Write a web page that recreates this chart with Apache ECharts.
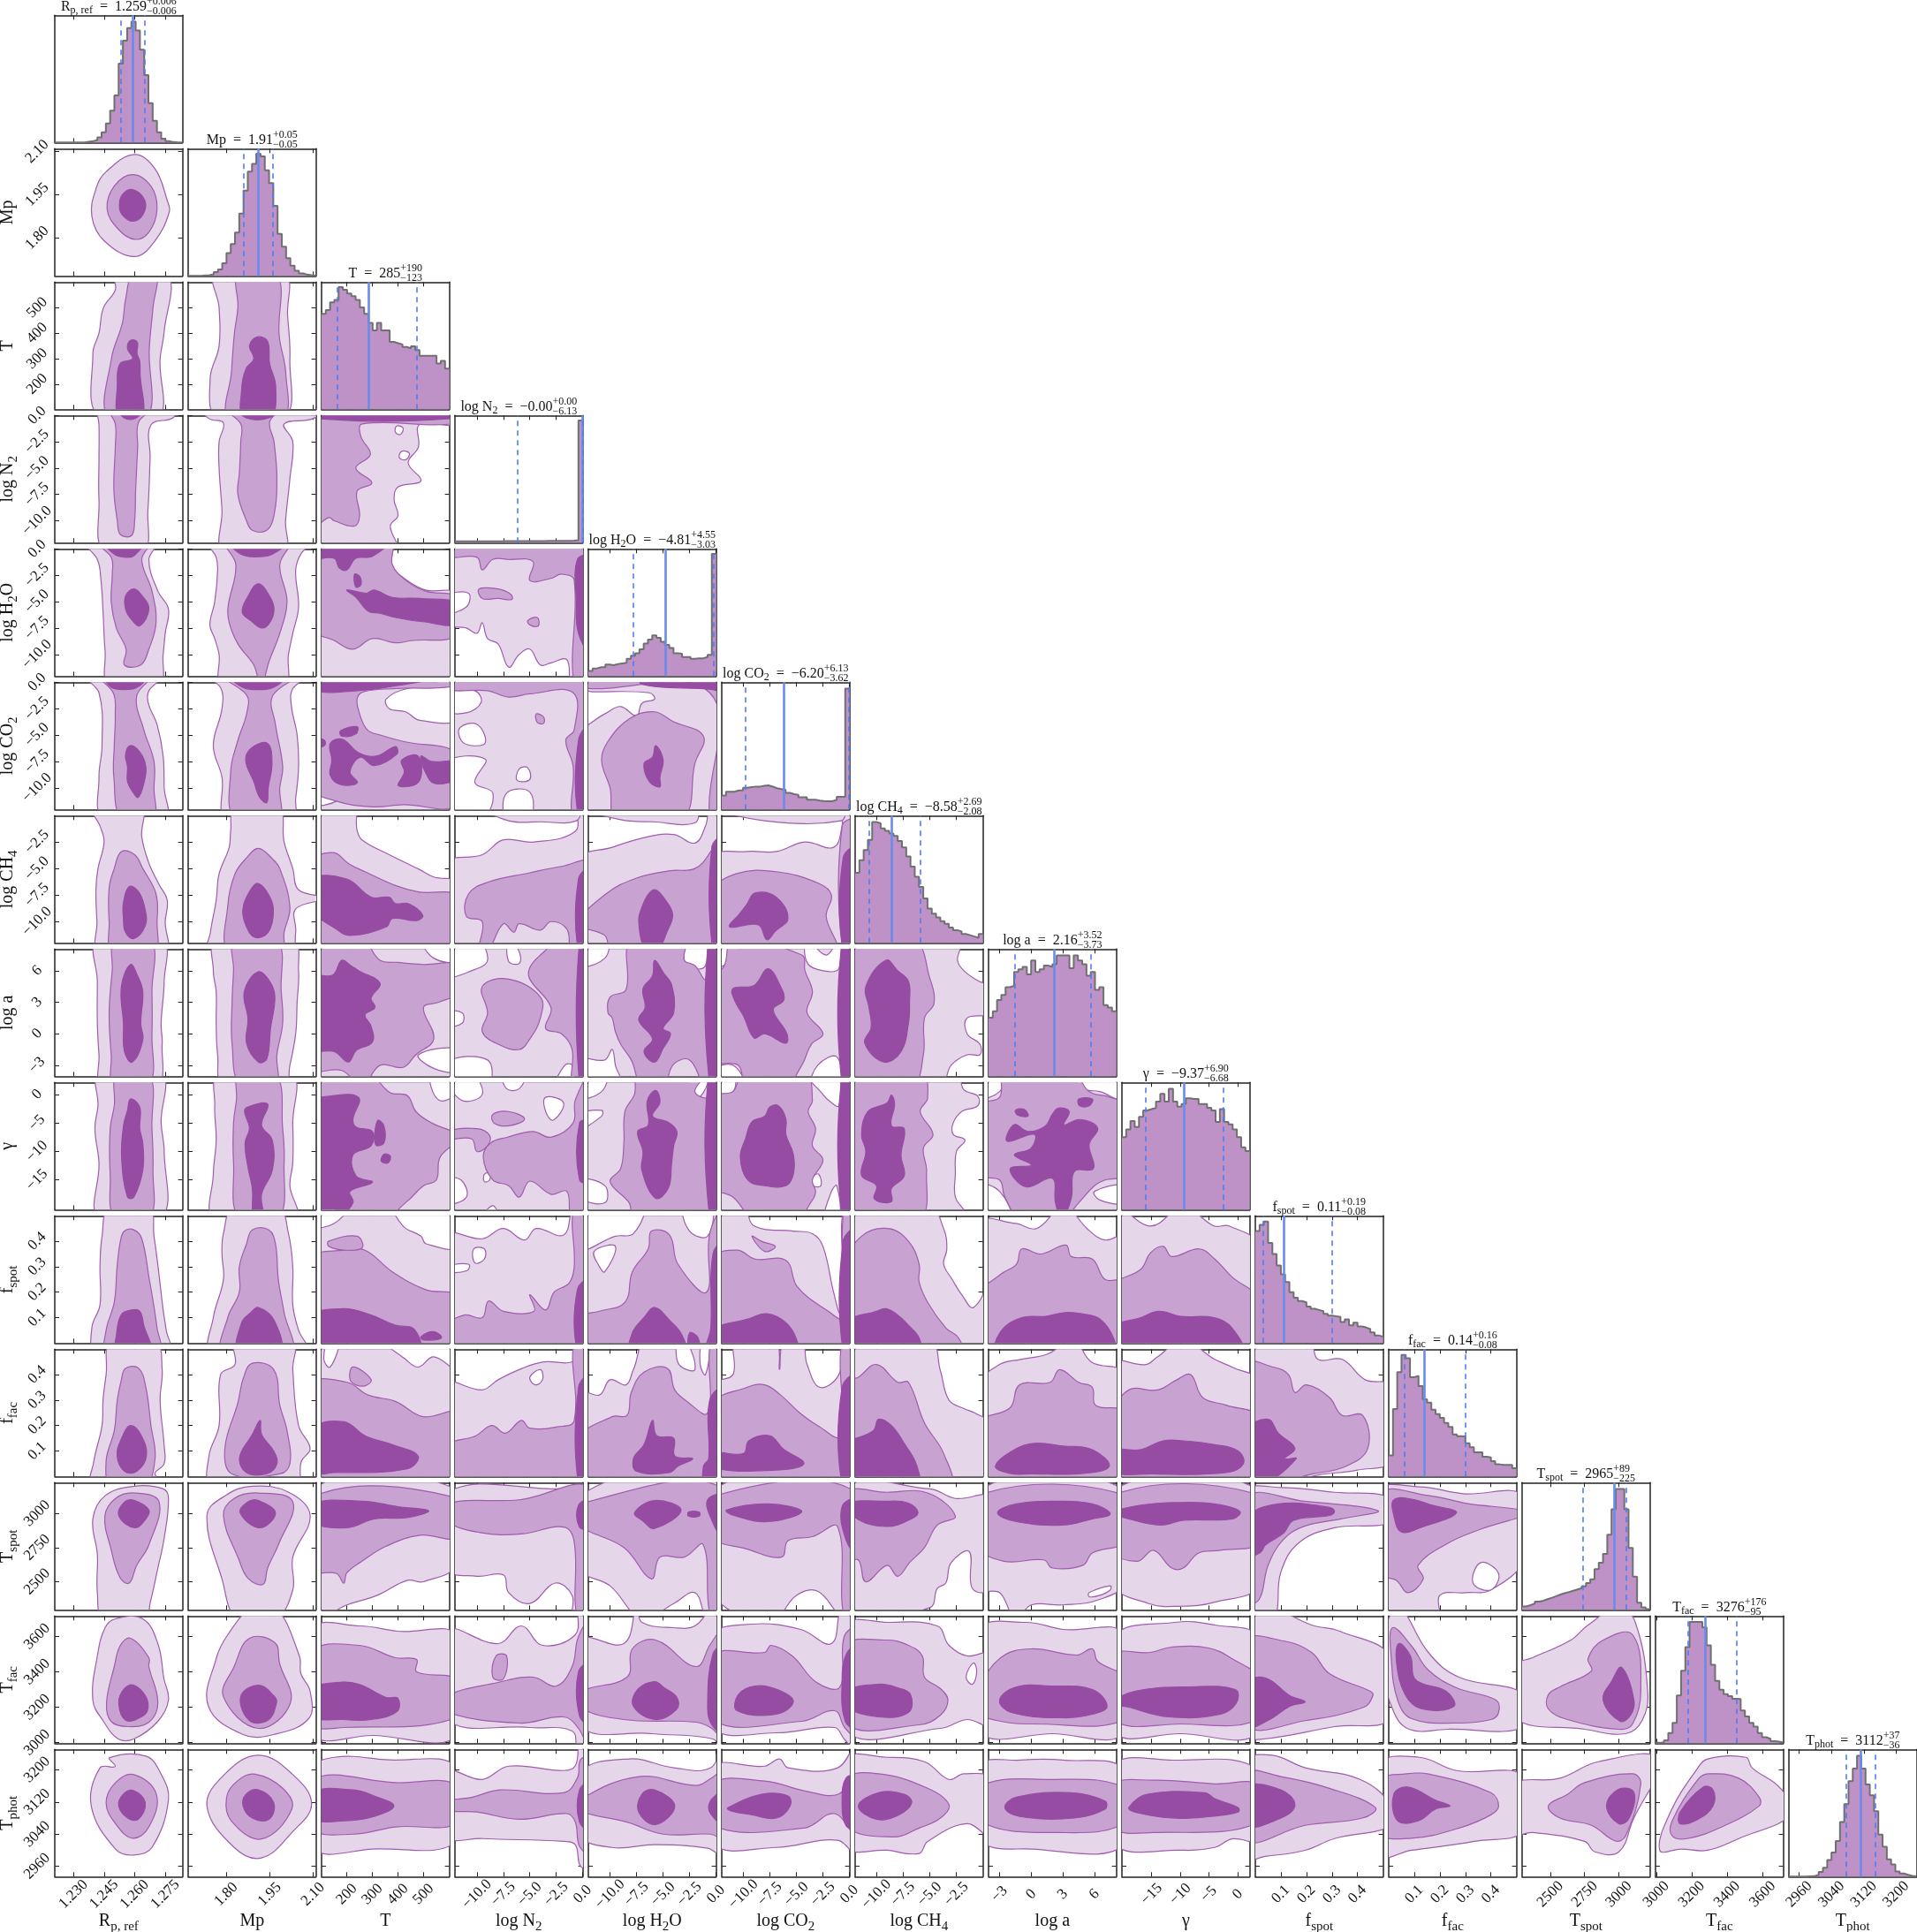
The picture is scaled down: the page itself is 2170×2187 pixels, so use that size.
<!DOCTYPE html>
<html>
<head>
<meta charset="utf-8">
<title>Corner plot</title>
<script src="https://cdn.jsdelivr.net/npm/echarts@6/dist/echarts.min.js"></script>
<style>
  html, body { margin: 0; padding: 0; background: #fff; }
  #chart { width: 2170px; height: 2187px; }
</style>
</head>
<body>
<div id="chart"></div>
<script>
// labels: pieces alternate between normal text and subscript
const paramNames = [['R','p, ref'],['Mp'],['T'],['log N','2'],['log H','2','O'],['log CO','2'],['log CH','4'],['log a'],['γ'],['f','spot'],['f','fac'],['T','spot'],['T','fac'],['T','phot']];
const titleValues = ['1.259','1.91','285','−0.00','−4.81','−6.20','−8.58','2.16','−9.37','0.11','0.14','2965','3276','3112'];
const titlePlus = ['+0.006','+0.05','+190','+0.00','+4.55','+6.13','+2.69','+3.52','+6.90','+0.19','+0.16','+89','+176','+37'];
const titleMinus = ['−0.006','−0.05','−123','−6.13','−3.03','−3.62','−2.08','−3.73','−6.68','−0.08','−0.08','−225','−95','−36'];

const axisMin = [1.2208,1.668,101,-12.08,-12.05,-12.05,-12,-4.05,-20.2,0,0,2294,2996,2934.5];
const axisMax = [1.2835,2.11,601,0,0,0,-0.02,8.07,2.1,0.5,0.5,3226,3716,3250.6];
const tickValues = [
  [1.23,1.245,1.26,1.275],[1.8,1.95,2.1],[200,300,400,500],[-10,-7.5,-5,-2.5,0],[-10,-7.5,-5,-2.5,0],[-10,-7.5,-5,-2.5,0],[-10,-7.5,-5,-2.5],
  [-3,0,3,6],[-15,-10,-5,0],[0.1,0.2,0.3,0.4],[0.1,0.2,0.3,0.4],[2500,2750,3000],[3000,3200,3400,3600],[2960,3040,3120,3200]
];
const tickDecimals = [3,2,0,1,1,1,1,0,0,1,1,0,0,0];

const lowerValues = [1.253,1.86,162,-6.13,-7.84,-9.82,-10.66,-1.57,-16.05,0.03,0.06,2740,3181,3076];
const medianValues = [1.259,1.91,285,-0.01,-4.81,-6.2,-8.58,2.16,-9.37,0.11,0.14,2965,3276,3112];
const upperValues = [1.265,1.96,475,-0.01,-0.26,-0.07,-5.89,5.68,-2.47,0.3,0.3,3054,3452,3149];

// histogram heights, 30 bins each
const histRp = [0,0,0,0,0,0,0,0.5,1,2,4,8,15,25,37,62,80,90,95,88,73,53,31,17,8,3,1,0.3,0.1,0];
const histMp = [0,0,0,0.3,0.6,1.2,3,5,10,18,25,34,49,67,82,88,96,94,83,73,55,33,23,14,8,4,2,1,0.5,0.2];
const histT = [75,78,84,86,96,94,91,89,86,80,75,68,62,68,62,62,53,52,51,49,48,49.5,46.5,42,42,42,42,36,38,32];
const histN2 = [1,1,1,1,1,1,1,1,1,1,1,1.2,1.2,1.2,1.2,1.2,1.2,1.2,1.3,1.3,1.3,1.4,1.4,1.4,1.4,1.5,1.5,1.6,2,96];
const histH2O = [4,6,7,7,9,8.5,9.5,10,10.5,13.5,16,18,21,25.5,28.6,32,30,27,24.5,22,18,17.6,15,15,13.6,14,14,15,16.7,96];
const histCO2 = [11,14,14,15,15,17,17.5,18,18,18.6,19,17.9,16.7,16,15.5,13,12,11.5,9.5,9.5,7.6,7.6,7,6.7,6.5,6.5,7.6,10,10,95];
const histCH4 = [55,65,73,81,95,94,90,88,86,84,80,75,68,60,52,44,35,27,23,20,17,15,12,10,9,7,6,5,4,7];
const histA = [46,51,60,64,70,71,82,84,86,80,91,82,84,87,86,88,95,95,95,85,95,91,88,79,82,68,70,56,54,51];
const histGamma = [57,63,69.6,65,73,78,79,80,85,91,85,95,85,81,83,87.5,87,87,83,83,80,78,69,79,69,67,63,57,49,46];
const histFspot = [88,93,95.6,78.6,70,61,54,48,40,35.6,33,32,28.6,27,26,25,23,21.6,21,20.5,16.5,18.6,14,16,13,12.3,11,8.4,6,5];
const histFfac = [16.5,53,82,95.6,93,78,79,71,60.7,58,52.5,49,46,42,39,33,31.6,31.5,26,23,19,19,15.5,15,12,9.5,9,9,9,6.5];
const histTspot = [2.6,3.7,5,6.5,7.2,8.4,9.5,10.7,12,13,14,15,16,17,18.5,21,24,32,37,44,59,79,95,95,79,48.6,26,5.6,2,0.5];
const histTfac = [0.3,0.7,2.3,8,16,37.5,57,75.6,95.3,95.3,95.3,91,77,61.6,49,42,38.6,37,35,34.7,25.8,21,16,13,8,4.7,3.5,1.6,1.2,0.5];
const histTphot = [0,0,0,0.1,0.2,0.3,1.4,3.7,7,13,19,28,43,57,75,85,95,85,72.5,64,51.5,33,23.5,13.5,9.5,4,2.5,1.4,0.6,0.2];
const histograms = [histRp,histMp,histT,histN2,histH2O,histCO2,histCH4,histA,histGamma,histFspot,histFfac,histTspot,histTfac,histTphot];

// contour outlines in data units: [level, x,y, x,y, ...]
// level 0 light, 1 medium, 2 dark, 3 white hole
const row1 = [
  [[0,1.26,2.09,1.27,2.04,1.276,1.93,1.277,1.89,1.27,1.79,1.26,1.735,1.245,1.79,1.239,1.875,1.241,1.97,1.246,2.03],[1,1.259,2.02,1.268,1.98,1.271,1.9,1.267,1.82,1.26,1.795,1.252,1.83,1.2465,1.9,1.25,1.98],[2,1.259,1.968,1.265,1.93,1.264,1.88,1.259,1.858,1.254,1.88,1.2525,1.91,1.254,1.95]]
];
const row2 = [
  [[0,1.2506,610,1.2759,610,1.2744,400,1.2725,300,1.2715,90,1.2425,90,1.2395,320,1.2425,400,1.2447,500,1.2505,570],[1,1.2595,610,1.2703,610,1.269,500,1.2672,340,1.2662,90,1.2468,90,1.2486,300,1.254,440,1.2555,530],[2,1.2525,90,1.2635,90,1.2627,240,1.2625,290,1.2612,320,1.2613,365,1.258,372,1.2565,340,1.259,300,1.2528,280,1.2515,200]],
  [[0,1.762,610,2,610,2.012,470,2.02,300,2,90,1.77,90,1.744,220,1.775,350,1.775,500],[1,1.843,610,1.974,610,1.983,390,2.006,240,1.995,90,1.81,90,1.818,250,1.828,400,1.84,500],[2,1.86,90,1.953,90,1.971,190,1.95,280,1.942,370,1.905,385,1.88,350,1.895,300,1.868,260,1.853,180]]
];
const row3 = [
  [[0,1.241,0.1,1.2795,0.1,1.279,-0.2,1.268,-0.9,1.2676,-4,1.2665,-9,1.2644,-12.2,1.2447,-12.2,1.2425,-8,1.2425,-4,1.2425,-0.9,1.242,-0.2],[1,1.247,0.1,1.27,0.1,1.262,-0.6,1.2615,-3,1.2605,-7,1.26,-10,1.2585,-11.4,1.253,-11.3,1.2515,-10,1.2498,-7,1.2505,-3,1.2505,-0.8],[2,1.2515,0.1,1.2645,0.1,1.261,-0.2,1.255,-0.25]],
  [[0,1.71,0.1,2.11,0.1,2.1,-0.3,2,-0.8,2.03,-2.5,2.02,-6,2.005,-10,2,-12.2,1.79,-12.2,1.785,-9,1.775,-5,1.775,-2.5,1.79,-0.7,1.74,-0.3],[1,1.79,0.1,1.99,0.1,1.95,-0.6,1.965,-2.5,1.975,-6,1.965,-9.5,1.94,-10.9,1.89,-10.9,1.87,-10,1.84,-7.5,1.845,-5.5,1.85,-2.5,1.85,-0.8],[2,1.84,0.1,1.98,0.1,1.95,-0.2,1.87,-0.25]],
  [[0,101,0.1,601,0.1,601,-0.85,485,-0.85,480,-3,440,-4.5,490,-6.2,400,-6.8,385,-8,400,-9.5,370,-10.5,395,-12.2,101,-12.2],[3,395,-1,420,-1.2,410,-1.8,390,-1.6],[3,415,-3.4,445,-3.6,430,-4.2,405,-4],[1,101,0.1,601,0.1,601,-0.7,260,-0.8,255,-2,292,-3.7,235,-5,298,-6.4,240,-7.2,250,-9.5,230,-10.5,150,-10,130,-9.7,101,-10.5],[2,101,0.1,601,0.1,601,-0.25,101,-0.25]]
];
const row4 = [
  [[0,1.235,0.1,1.2715,0.1,1.267,-1,1.2714,-4,1.2766,-5.7,1.275,-8,1.274,-10,1.272,-12.2,1.2475,-12.2,1.2455,-9.7,1.2445,-6,1.2435,-3,1.2417,-1],[1,1.2405,0.1,1.268,0.1,1.2635,-1,1.2685,-4,1.2705,-7,1.267,-9.5,1.263,-11,1.255,-11,1.2558,-9.5,1.251,-7.5,1.2485,-5,1.249,-2.5,1.2485,-0.8],[2,1.245,0.1,1.265,0.1,1.26,-0.6,1.2565,-0.8,1.25,-0.5],[2,1.2595,-3.8,1.2635,-4.4,1.267,-5.7,1.2625,-7.3,1.2585,-6.7,1.2557,-5.8,1.2555,-4.5]],
  [[0,1.735,0.1,2.105,0.1,2.06,-0.4,2.04,-2,2.05,-5.5,2.03,-8,2.015,-10,2,-12.2,1.785,-12.2,1.775,-10,1.76,-8.5,1.743,-7.2,1.76,-5,1.77,-2,1.765,-0.8],[1,1.795,0.1,2.02,0.1,1.985,-1.5,2.01,-5,1.985,-8,1.95,-10.5,1.92,-12,1.895,-11,1.84,-9,1.81,-7,1.806,-5.5,1.833,-1.5],[2,1.81,0.1,2.015,0.1,1.96,-0.5,1.91,-0.75,1.85,-0.5],[2,1.911,-3.3,1.95,-4.5,1.965,-5.7,1.95,-7,1.922,-7.5,1.885,-6.8,1.855,-6,1.875,-4.5]],
  [[0,101,0.1,370,0.1,378,-1.6,437,-3,508,-3.9,601,-4.4,601,-12.2,101,-12.2],[1,101,0.1,372,0.1,378,-1.5,437,-3.1,508,-4,601,-4.7,601,-8.1,450,-8.7,390,-8.9,300,-8.5,224,-9.5,152,-8.7,101,-7.5],[2,101,0.1,365,0.1,300,-0.7,235,-0.9,200,-2,170,-1.8,150,-0.9,101,-0.8],[2,200,-3.9,277,-4.2,307,-3.9,378,-4.6,485,-4.7,601,-5.2,601,-7.1,497,-6.9,390,-6.5,330,-6.1,283,-5.9,236,-4.6],[2,230,-2.4,250,-2.6,255,-3.4,235,-3.6]],
  [[0,-12.1,0.1,0,0.1,0,-12.2,-1,-12.2,-1.5,-10.5,-3,-10.8,-4,-11,-5,-9.5,-6,-10,-7,-11.2,-8,-9,-9,-8.5,-9.5,-7,-10,-8,-11,-7.5,-12.1,-7],[3,-12.1,-4.5,-10.8,-4.2,-11,-5.5,-12.1,-6],[1,-12.1,0.1,0,0.1,0,-12.2,-0.8,-12.2,-0.8,-3,-2,-2.4,-3,-2.8,-5,-3,-4.7,-1.2,-7,-1,-8.5,-1,-9.5,-2,-10,-0.8,-12.1,-0.7],[1,-9.8,-3.8,-8,-3.8,-6.8,-4.3,-6.7,-4.8,-8,-4.7,-9.5,-4.7],[1,-5.2,-6.8,-4.3,-6.5,-4.2,-7.3,-5,-7.2],[2,-0.5,-1,0,-0.8,0,-10,-0.4,-8,-0.6,-5]]
];
const row5 = [
  [[0,1.2345,0.1,1.275,0.1,1.267,-0.8,1.2667,-2,1.271,-4,1.274,-7,1.2745,-10,1.275,-12.2,1.2447,-12.2,1.2425,-9,1.244,-6,1.2425,-1],[1,1.2415,0.1,1.269,0.1,1.261,-1.3,1.2645,-4.5,1.2695,-7.5,1.2695,-10,1.269,-12.2,1.2537,-12.2,1.2498,-9,1.25,-6,1.2505,-3,1.2495,-1],[2,1.245,0.1,1.266,0.1,1.262,-0.4,1.254,-0.7,1.248,-0.4],[2,1.2578,-6,1.2625,-6.6,1.2655,-8,1.2645,-9.6,1.2618,-10.9,1.2595,-10.5,1.2565,-9.4,1.2565,-8,1.2555,-6.9]],
  [[0,1.722,0.1,2.09,0.1,2.03,-0.6,2.025,-2.2,2.045,-5,2.05,-8,2.04,-11,2.03,-12.2,1.8,-12.2,1.785,-9,1.755,-6,1.785,-2.5,1.78,-0.5],[1,1.775,0.1,2.05,0.1,1.96,-1.3,1.97,-4,1.995,-8,1.985,-10,1.98,-12.2,1.83,-12.2,1.815,-8.5,1.84,-5.5,1.87,-3,1.87,-1.2],[2,1.81,0.1,2.01,0.1,1.97,-0.4,1.91,-0.7,1.85,-0.4],[2,1.943,-5.8,1.958,-7.7,1.945,-10,1.94,-11.4,1.915,-10.9,1.895,-9.4,1.867,-7.4,1.888,-6.2]],
  [[0,101,0.1,601,0.1,601,-12.2,101,-12.2],[3,437,-0.6,601,-0.2,601,-3.5,485,-3.6,430,-2.8,366,-2.5,354,-1.6],[3,101,-10,140,-10.6,165,-11.2,101,-11.6],[1,101,0.1,601,0.1,601,-0.3,400,-0.6,265,-0.9,240,-1.6,250,-3,280,-4.5,330,-5,420,-5.6,601,-6.9,601,-11.6,420,-11.6,300,-11.8,150,-11.2,101,-10],[2,101,0.1,601,0.1,400,-0.3,240,-0.8,101,-0.7],[2,135,-5.8,182,-5.4,247,-6.7,315,-7,390,-6.1,396,-6.8,307,-7.9,253,-7.1,212,-8.5,241,-9.5,176,-9.7,135,-8.8,141,-7.4],[2,414,-7.4,479,-7,482,-9.4,402,-9.8,425,-8.5],[2,490,-7,530,-7.5,601,-7.6,601,-9,545,-9.6,505,-8.4],[2,175,-4.6,240,-4.2,235,-4.9,180,-5.1],[2,101,-5.2,112,-5.5,112,-6,101,-6.2]],
  [[0,-12.1,0.1,0,0.1,0,-12.2,-12.1,-12.2],[3,-12.1,-0.8,-10.2,-0.8,-9.6,-1.9,-11,-2.9,-12.1,-2.6],[3,-11.6,-4.3,-10,-4,-9.2,-5.7,-10.5,-6,-11.5,-5.5],[3,-12.1,-7.7,-9.2,-7.3,-10.2,-9.5,-8.5,-10.5,-9.5,-12.2,-12.1,-12.2],[3,-7.2,-10.5,-5,-10.4,-5,-12.2,-7.2,-12.2],[3,-6,-8.2,-5.2,-8.1,-5,-9.2,-6.2,-9.3],[1,-12.1,0.1,0,0.1,0,-12.2,-0.9,-12.2,-0.9,-8,-1.6,-5.5,-0.8,-4.5,-0.9,-1,-5,-1.1,-7,-1.4,-9,-0.8,-12.1,-0.6],[1,-4.4,-3,-3.7,-3.3,-3.7,-3.9,-4.3,-3.8],[2,-0.4,-5.5,0,-4,0,-12.2,-0.4,-12.2]],
  [[0,-12.1,0.1,0,0.1,0,-12.2,-12.1,-12.2],[3,-11.7,-0.9,-6.3,-1,-5.8,-1.6,-7,-2,-7.5,-3.2,-9,-2.3,-10.5,-3,-12,-4.2,-12,-0.9],[1,-10.8,-7.4,-10.2,-5.6,-8.1,-3.4,-5.8,-2.8,-4.1,-3.7,-1.2,-5.1,-2,-7.7,-3.2,-12.2,-9.4,-12.2,-10,-10],[1,-12.1,0.1,0,0.1,0,-12.2,-0.6,-12.2,-0.6,-1,-12.1,-0.5],[2,-7,0.1,0,0.1,0,-1,-0.3,-0.7,-7,-0.2],[2,-5.7,-6,-5,-7.3,-5.3,-9,-5.3,-9.9,-6.3,-9.4,-6.8,-7.7,-6,-7.1]]
];
const row6 = [
  [[0,1.239,0,1.2633,0,1.2635,-2,1.267,-4.5,1.272,-6.5,1.276,-8,1.275,-10,1.275,-12.2,1.2425,-12.2,1.2415,-10,1.241,-7,1.242,-5,1.245,-2.5,1.243,-1],[1,1.2535,-3.4,1.26,-3.7,1.264,-5,1.2705,-7.4,1.271,-10,1.2695,-12.2,1.2492,-12.2,1.2475,-10,1.2475,-6.8,1.25,-5],[2,1.2574,-6.7,1.262,-7.2,1.2652,-8.9,1.2652,-10.4,1.2596,-11.6,1.2555,-11,1.2545,-9.7,1.2545,-8.2]],
  [[0,1.83,0,1.98,0,2,-2.5,2.03,-5,2.05,-7,2.11,-7.8,2.04,-8.8,2.04,-11,2.02,-12.2,1.74,-12.2,1.745,-11,1.765,-8,1.775,-5.5,1.81,-3,1.815,-1.5],[1,1.911,-3.1,1.96,-4.1,1.985,-5,2.02,-8.6,2,-11,1.99,-12.2,1.81,-12.2,1.805,-8.5,1.83,-5.5,1.87,-4],[2,1.909,-6.4,1.945,-7.4,1.963,-8.9,1.945,-11,1.9,-11.5,1.87,-10.5,1.857,-8.9,1.88,-7.2]],
  [[0,101,0,224,0,240,-1.4,259,-2.3,366,-3.7,485,-5.1,540,-5.8,601,-6.4,601,-12.2,101,-12.2],[1,101,-4.4,147,-3.5,210,-4.6,271,-5.3,390,-6.6,480,-7.2,601,-7.7,601,-12.2,101,-12.2],[2,101,-6,200,-6,295,-7.7,366,-7.7,390,-8.3,440,-8.3,497,-9.4,473,-9.9,378,-9.7,354,-10.5,212,-11.3,152,-10.6,101,-8.9]],
  [[0,-12.1,-4.6,-9.5,-3.7,-7.5,-2.3,-4.6,-2.5,-0.7,-1.5,-0.4,0,0,0,0,-12.2,-12.1,-12.2],[0,-9.5,0,-0.4,0,-0.6,-0.5,-4,-0.6,-7,-0.5],[1,-10.8,-7.4,-9,-6.3,-5,-5.4,-2,-4.8,0,-4.5,0,-12.2,-1,-12.2,-1.5,-10.7,-3,-10,-4,-10.8,-6,-10.2,-6.5,-11,-7.5,-10.2,-9,-12.2,-9.8,-12.2,-9.5,-10,-11,-9.5],[2,-0.4,-6,0,-5,0,-12.2,-0.4,-12.2]],
  [[0,-12.1,-4.2,-9.8,-3,-6.4,-2,-4,-1.8,-2,-2.6,-1,-1,-0.5,0,0,0,0,-12.2,-12.1,-12.2],[0,-12,0,-2,0,-2,-0.7,-6,-0.6,-9,-0.4],[1,-12.1,-10.2,-10.4,-7.4,-7.5,-5.9,-4.3,-5.2,-2,-5,-0.5,-3.4,0,-1,0,-12.2,-9.8,-12.2,-10.5,-11.3],[2,-5.7,-7,-4.9,-7.8,-4.1,-9.3,-4.6,-10.9,-5.6,-12.2,-6.6,-12.2,-7.3,-10,-6.9,-8.4,-6.3,-7.3],[2,-0.4,-3,0,-2,0,-12.2,-0.3,-12.2]],
  [[0,-12.1,-4,-9.7,-3.4,-6.9,-3.4,-4.2,-2.5,-1.5,-3,-0.7,-1,-0.6,0,0,0,0,-12.2,-12.1,-12.2],[0,-12.1,0,-0.7,0,-0.8,-0.5,-8,-0.5],[1,-12.1,-7.2,-10.7,-5.5,-6.9,-5.3,-2.9,-6.4,-1.7,-7.5,-2.2,-9.5,-1.4,-12.2,-12.1,-12.2],[1,-0.7,-1,0,-0.5,0,-12.2,-0.6,-12.2],[2,-0.6,-4,0,-3,0,-12.2,-0.6,-12.2],[2,-8.9,-7.3,-6.9,-7.7,-5.8,-9.7,-7,-10.9,-7.8,-11.7,-8.6,-10.3,-11.3,-10.5,-10.4,-9.3,-9.7,-8.4]]
];
const row7 = [
  [[0,1.2417,8.2,1.2735,8.2,1.2745,5,1.273,1,1.2735,-1,1.271,-4.2,1.244,-4.2,1.2425,-2,1.2417,1,1.2417,5],[1,1.2505,8.2,1.268,8.2,1.2685,4,1.2685,0,1.267,-4.2,1.25,-4.2,1.2485,-2,1.2475,2,1.249,6],[2,1.258,6.6,1.2615,5.5,1.264,4,1.263,1,1.264,-0.6,1.2588,-2.7,1.255,-1.7,1.2545,1,1.2535,4.5]],
  [[0,1.765,8.2,2.03,8.2,2.05,6,2.045,3,2.04,0,2.02,-3,2,-4.2,1.79,-4.2,1.77,-2,1.765,1,1.765,4,1.755,6],[1,1.83,8.2,1.975,8.2,1.99,4,1.995,1,1.975,-2,1.97,-4.2,1.85,-4.2,1.82,-1,1.82,3,1.825,6],[2,1.91,5.9,1.95,5,1.968,3.5,1.953,0.5,1.94,-2.4,1.911,-2.7,1.87,-0.9,1.875,1.4,1.862,4]],
  [[0,101,8.2,601,8.2,601,-4.2,101,-4.2],[3,500,8.2,601,8.2,601,7,540,7.2],[3,480,-2,601,-1.5,601,-3.5,540,-3.3],[1,101,8.2,260,8.2,330,7,400,6.8,500,6.6,601,6.5,601,4,560,3,500,2.5,540,-0.5,470,-2,420,-3.2,330,-3,260,-4,180,-3.5,101,-3.2],[2,101,5.3,145,5.6,180,7,215,6.5,247,6,330,4.8,295,3.4,310,2.5,271,1.8,295,0.7,300,-0.8,236,-1.6,206,-2.7,152,-1.7,101,-1.4]],
  [[0,-12.1,8.2,0,8.2,0,-4.2,-12.1,-4.2],[3,-12.1,7.5,-10,8,-9,7,-10.5,6,-12,5.5],[3,-7,8,-6,7.8,-6,6.7,-7,6.9],[3,-12.1,-2.7,-9,-2.5,-9,-4.2,-12.1,-4.2],[3,-1.7,-3,-1,-3,-1,-4.2,-2.5,-4.2],[3,-12.1,2,-11.4,2,-11.4,1,-12.1,0.8],[1,-9.5,4.5,-7,5.2,-4,3.5,-4,1.5,-5,-0.5,-6,-1.5,-8,-1,-9.5,0.2,-9,2],[1,-2,8.2,0,8.2,0,-4.2,-0.9,-4.2,-1,-1.5,-2,0,-3.5,0.5,-3,2.5,-5,5.2,-5,6.3,-4,7.5],[2,-0.3,8,0,8.2,0,-4.2,-0.3,-4.2]],
  [[0,-12.1,8.2,0,8.2,0,-4.2,-12.1,-4.2],[3,-12.1,8.2,-10.3,8.2,-10.5,7.2,-12.1,6.5],[3,-12.1,-2.5,-10.5,-2.5,-9.8,-1.5,-9.5,-3,-9,-4.2,-12.1,-4.2],[3,-2.5,8.2,-0.9,8.2,-1,6.5,-2,6.2,-3,7],[1,-8,8.2,-3,8.2,-3,7,-2,6.5,-1,5.2,-0.6,8.2,0,8.2,0,-4.2,-1,-4.2,-2.5,-2.5,-4,-2.9,-5,-4.2,-7,-4.2,-8,-2.5,-9,-1,-9.5,0.2,-9.8,1.5,-10.2,2,-10,3.5,-8.5,4.2],[2,-5.8,7,-4.9,5.7,-4.2,4.7,-4,2,-5,0.5,-4.3,0,-5,-1.4,-5.8,-2.7,-6.8,-1.7,-6,-0.5,-7.3,1.3,-6.7,2.5,-6.9,4.3,-6,5.5],[2,-0.7,8.2,0,8.2,0,-4.2,-0.6,-4.2]],
  [[0,-12.1,8.2,0,8.2,0,-4.2,-12.1,-4.2],[3,-12.1,8.2,-10.5,8.2,-11,7,-12,6.5],[3,-4,8.2,-2.2,7.5,-1,8.2,-1,6.2,-2.5,6,-4,6.8],[3,-3,-3,-1.2,-2.2,-1,-4.2,-3.5,-4.2],[3,-12.1,-3.5,-11,-3,-10,-4.2,-12.1,-4.2],[1,-11,8,-4.5,7.5,-4.2,6,-3.5,4,-4,2,-2.5,0,-3.6,-1,-4.5,-3,-6,-4.2,-9.7,-4.2,-10.5,-3,-12.1,-2.5,-12.1,5,-11.8,6.5],[2,-7.7,6.2,-6.5,4.5,-6.2,3.2,-7.2,2.3,-5.9,0,-6,-0.9,-8,0,-9,-0.4,-10,1.7,-10.8,3.1,-11,4.3,-9,4.6],[2,-0.7,8.2,0,8.2,0,-4.2,-0.7,-4.2]],
  [[0,-12.1,8.2,-2.2,8.2,-2.4,7,-1.8,6,-0.4,5,-0.1,4.5,-0.1,2,-1.5,1.5,-1.5,0,-0.3,-1,-0.3,-2,-1.5,-2,-3,-3,-4,-4.2,-12.1,-4.2],[1,-12,8.2,-6.5,8.2,-5,5.3,-4.6,2.9,-5.5,1.5,-5.6,-2,-6.7,-4.2,-12,-4.2],[2,-9.1,7,-8,6,-7,5,-6.9,3,-7,1,-7.7,-1.7,-9.3,-2.7,-11.1,-0.9,-10.5,0.6,-10.7,2.5,-11,4.5]]
];
const row8 = [
  [[0,1.2425,2.2,1.273,2.2,1.273,-5,1.2745,-10,1.273,-20.3,1.2425,-20.3,1.2425,-12,1.2405,-6,1.242,-2],[1,1.2515,2.2,1.267,2.2,1.2685,-6,1.269,-13,1.2672,-20.3,1.2505,-20.3,1.248,-14,1.248,-6,1.25,-2],[2,1.258,-0.8,1.2625,-2.2,1.2625,-6,1.264,-8.5,1.264,-13.3,1.2596,-18,1.2565,-18,1.2536,-11.2,1.2545,-5.5,1.2565,-2.8]],
  [[0,1.775,2.2,2.025,2.2,2.03,-5,2.03,-12,2.02,-16,2.04,-20.3,1.76,-20.3,1.755,-14,1.765,-8,1.76,-2],[1,1.845,2.2,1.97,2.2,1.995,-6,2,-12,1.98,-20.3,1.845,-20.3,1.825,-12,1.825,-5,1.835,-1],[2,1.875,-2.2,1.943,-1.7,1.922,-5.4,1.959,-8,1.959,-13.3,1.922,-17.5,1.927,-20.3,1.895,-20.3,1.89,-16.5,1.875,-12.8,1.865,-8.5,1.88,-5.9,1.863,-3]],
  [[0,101,2.2,601,2.2,601,-20.3,101,-20.3],[3,530,2.2,601,2.2,601,0.5,560,-1],[3,101,-20.3,160,-20.3,130,-19,101,-18.8],[1,101,2.2,283,2.2,370,0.3,437,-0.2,470,-3,532,-5,601,-7,601,-8,565,-11,550,-15,500,-16,437,-18.7,340,-20.3,101,-20.3],[2,101,-1.7,152,-0.2,247,-0.6,224,-4.3,236,-5.7,300,-6.5,295,-9,224,-10.6,236,-14.3,300,-15.4,212,-17,224,-19,165,-20.3,130,-20.3,101,-17],[2,320,-4.6,345,-5.5,345,-8.5,312,-8.8],[2,345,-10.5,370,-10.8,362,-12,335,-11.7]],
  [[0,-12.1,2.2,0,2.2,0,-20.3,-12.1,-20.3],[3,-12.1,2.2,-10.5,2.2,-9.5,0,-11.5,-1],[3,-7.5,2.2,-5.5,2.2,-6,1,-7.2,1],[3,-3.5,-0.5,-1.8,-1.5,-2.8,-4.5,-3.5,-3],[3,-12.1,-15,-11.5,-15,-11,-18,-12.1,-19],[3,-9.5,-20.3,-8,-20.3,-8.5,-19.5],[3,-9.3,-14,-8.8,-13.8,-8.8,-15,-9.3,-15.3],[1,-9.4,-11,-8.7,-8.5,-7.1,-7.5,-4.7,-6.5,-3,-7.5,-0.9,-5,-0.7,-1,0,2,0,-20.3,-1,-20.3,-1.5,-17,-3,-17.5,-5,-15.2,-6,-18,-7,-16,-8.5,-15],[1,-8.5,-3.5,-7,-3,-5.5,-4.3,-7,-5.5,-8.4,-5],[1,-12.1,-6.5,-10,-6,-8.8,-7.2,-9,-9,-10,-10,-10.5,-7.8,-12.1,-7.8],[2,-0.3,-5,0,-5,0,-15,-0.3,-15]],
  [[0,-12.1,2.2,0,2.2,0,-20.3,-12.1,-20.3],[3,-12.1,2.2,-10.4,2.2,-10.8,0.5,-12.1,-0.5],[3,-2.5,2.2,-0.8,2.2,-1.2,0.3,-2.3,-1],[3,-12.1,-6,-10.8,-3.8,-10.8,-2.8,-12.1,-3.5],[3,-12.1,-15,-10.5,-16,-10.5,-19,-12.1,-18],[1,-7.3,2.2,-1.2,2.2,-2,0.5,-0.7,-0.5,0,2.2,0,-20.3,-7.7,-20.3,-8.2,-19,-10,-15.3,-9,-13,-8.7,-8.5,-8.6,-3,-7.7,0],[2,-5.7,0.7,-5.3,-1.4,-6,-3.8,-4.5,-4.9,-3.7,-6.5,-4,-9,-4.2,-12.2,-4.5,-16.4,-5.7,-18.2,-7,-13.3,-6.9,-10,-7.4,-6.5,-6.4,-5.4,-6.5,-1.2],[2,-0.7,2.2,0,2.2,0,-20.3,-0.6,-20.3]],
  [[0,-12.1,2.2,0,2.2,0,-20.3,-12.1,-20.3],[3,-12.1,2.2,-11,2.2,-11,0.5,-12.1,0.5],[3,-4,2.2,-1.2,2.2,-1,-2,-2,-1,-2.5,0],[3,-1.7,-17,-1.2,-16,-1,-20,-2.3,-20],[3,-3.5,-14.5,-2.9,-14,-2.7,-16,-3.4,-16],[1,-10,2.2,-4.2,2.2,-3.5,-1,-3.9,-3,-3.2,-6,-3.5,-9,-2.5,-11.5,-3.5,-15,-3.2,-17,-3.5,-18.5,-5,-20.3,-9,-20.3,-11,-18,-12.1,-16,-12.1,-0.5,-11,0.5],[2,-6.7,-2,-6,-4.3,-6,-7,-5.3,-10.5,-5.3,-14,-6,-16,-8,-16,-9.6,-15,-10.3,-11,-9.8,-7.7,-9.2,-4.8,-8,-3.8,-7.5,-2.2],[2,-0.7,2.2,0,2.2,0,-20.3,-0.7,-20.3]],
  [[0,-12.1,2.2,-2.5,2.2,-1.8,0.8,-0.5,-0.3,-0.5,-2,-2,-3,-2.8,-5,-2.8,-7,-1.7,-8,-2.5,-10,-2.6,-14,-2.6,-18,-1.5,-20.3,-12.1,-20.3],[1,-12.1,2.2,-5.8,2.2,-5.2,-0.6,-5.9,-3,-4.7,-7,-5.6,-9.4,-5.3,-13.5,-6,-20.3,-12.1,-20.3],[2,-8.6,-0.1,-8.3,-1.7,-8.6,-5.5,-7.4,-6,-7.7,-10.7,-7.4,-14.3,-8.6,-16.5,-8.6,-18.8,-10.2,-18.3,-10,-16,-11.4,-14.2,-11,-10,-11.4,-7,-10.8,-3,-9,-1.5]],
  [[0,-4.1,2.2,8.1,2.2,8.1,-20.3,-4.1,-20.3],[3,-4.1,2.2,-2.5,2.2,-3,0.5,-4.1,-0.5],[3,4,2.2,8.1,2.2,8.1,-1,6.5,0.5,5,1],[3,-4.1,-16,-3,-17,-2,-20.3,-4.1,-20.3],[3,6,-17,8.1,-16,8.1,-19,6.5,-18.5],[1,-2.5,2.2,4,2.2,5.5,0.5,7.5,-0.5,8.1,-2,8.1,-14,7,-15,6,-16,4.5,-19,3,-20.3,-1,-20.3,-2.5,-18,-3,-15,-4.1,-14,-4.1,-2,-3,-0.5],[2,2.6,-2.4,3.6,-3,3.1,-5.3,4.6,-4.4,6.3,-5.9,5.5,-8.8,5.9,-13,4.1,-13.5,3.8,-18.2,2.9,-20.3,2.3,-19,2,-14.7,-0.5,-16.2,-2,-13,0,-12.4,-1.6,-10.6,0,-9.4,0.3,-7,-2.3,-8.2,-1.6,-5.3,-0.3,-6.5,1.3,-5.6,2,-3.5],[2,4.5,-0.8,5.8,-0.8,5.5,-2,4.6,-2],[2,-1.5,-2.8,-0.7,-2.6,-0.3,-3.8,-1.3,-3.6]]
];
const row9 = [
  [[0,1.2477,0.51,1.267,0.51,1.2695,0.42,1.2715,0.3,1.274,0.13,1.2755,0.05,1.277,0,1.241,0,1.239,0.06,1.243,0.15,1.243,0.3,1.244,0.42],[1,1.255,0.44,1.2596,0.445,1.2635,0.41,1.267,0.26,1.271,0.06,1.2718,0,1.2465,0,1.246,0.05,1.25,0.16,1.2514,0.3,1.253,0.4],[2,1.2535,0.112,1.2585,0.13,1.2625,0.125,1.2645,0.07,1.2675,0,1.2515,0,1.2512,0.04]],
  [[0,1.825,0.51,1.98,0.51,2.015,0.43,2.03,0.3,2.03,0.15,2.05,0.05,2.08,0,1.75,0,1.755,0.1,1.79,0.25,1.785,0.35,1.79,0.43],[1,1.89,0.445,1.947,0.445,1.97,0.39,1.98,0.25,2,0.12,2.022,0,1.79,0,1.805,0.1,1.845,0.2,1.845,0.3,1.87,0.39],[2,1.911,0.14,1.965,0.09,1.985,0,1.843,0,1.853,0.08,1.885,0.12]],
  [[0,101,0.5,601,0.5,601,0,101,0],[3,101,0.5,200,0.5,150,0.47,101,0.46],[3,390,0.5,601,0.5,601,0.38,510,0.39,490,0.42,420,0.46],[1,101,0.33,188,0.365,271,0.365,378,0.28,508,0.21,601,0.18,601,0,101,0],[1,128,0.4,240,0.42,260,0.375,190,0.365,130,0.38],[2,101,0.105,188,0.135,295,0.11,390,0.07,463,0.055,480,0,101,0],[2,490,0.025,540,0.045,570,0.02,500,0.012]],
  [[0,-12.1,0.42,-9.5,0.41,-7.5,0.45,-5.5,0.405,-4.4,0.45,-1.8,0.425,-0.8,0.5,0,0.5,0,0,-12.1,0],[3,-10.3,0.37,-9.3,0.37,-9.3,0.33,-10.2,0.315],[3,-12.1,0.3,-10.8,0.31,-10.9,0.285,-12.1,0.28],[1,-12.1,0.065,-11.2,0.11,-9.5,0.1,-8.9,0.165,-7.5,0.125,-4.6,0.125,-5,0.19,-3.5,0.13,-2.7,0.2,-1.3,0.235,-0.8,0.3,-0.8,0.5,0,0.5,0,0,-12.1,0],[2,-0.5,0.21,0,0.25,0,0,-0.5,0]],
  [[0,-12.1,0.5,0,0.5,0,0,-12.1,0],[3,-12.1,0.5,-7,0.5,-7.8,0.43,-9.5,0.42,-12.1,0.37],[3,-3,0.5,-0.5,0.5,-0.8,0.42,-2.5,0.44],[3,-11.5,0.36,-9.5,0.38,-10.5,0.28,-11,0.3],[1,-12.1,0.1,-11,0.125,-8.6,0.16,-7.9,0.28,-6.4,0.37,-6.1,0.44,-4.4,0.425,-3.6,0.31,-0.9,0.2,-0.6,0.43,0,0.5,0,0,-12.1,0],[2,-5.8,0.14,-4.4,0.09,-3.2,0.03,-3,0,-8,0,-7.9,0.04,-6.8,0.1],[2,-2.5,0.04,-1.7,0.02,-1.7,0,-2.5,0],[2,-0.3,0.35,0,0.4,0,0,-0.9,0,-0.5,0.06]],
  [[0,-12.1,0.5,-10,0.5,-9,0.46,-5.3,0.44,-3.5,0.43,-2.5,0.38,-1.5,0.2,-0.9,0.12,-0.7,0.3,-0.5,0.5,0,0.5,0,0,-12.1,0],[1,-12.1,0.33,-10.6,0.365,-8.9,0.33,-6,0.325,-4.9,0.22,-2,0.125,-0.7,0.1,-0.5,0.5,0,0.5,0,0,-12.1,0],[1,-9.2,0.42,-8.3,0.4,-7,0.38,-8,0.36],[2,-12.1,0.05,-9.5,0.095,-7.8,0.115,-6,0.08,-5,0.015,-5,0,-12.1,0],[2,-0.6,0.4,0,0.45,0,0,-0.6,0]],
  [[0,-12,0.5,-5,0.5,-3.7,0.45,-3.4,0.37,-3.7,0.31,-2.9,0.25,-2,0.19,-0.9,0.14,-0.1,0.27,0,0.3,0,0,-12,0],[1,-12,0.31,-11.4,0.42,-8.9,0.45,-7,0.4,-6,0.31,-6,0.24,-5.2,0.16,-3.5,0.06,-2.3,0.02,-2.1,0,-12,0],[2,-12,0.08,-10,0.125,-9.1,0.135,-8,0.11,-7,0.07,-6,0.02,-6,0,-12,0]],
  [[0,-4.1,0.47,-1.5,0.47,0.5,0.45,2.7,0.5,3.5,0.5,5.3,0.45,7,0.405,8.1,0.42,8.1,0,-4.1,0],[1,-4.1,0.19,-2.9,0.27,-1.4,0.31,-0.9,0.37,0.9,0.35,3.3,0.385,3.8,0.34,5.8,0.33,7,0.25,8.1,0.24,8.1,0,-4.1,0],[2,-3.2,0,-2.9,0.045,-0.9,0.1,1.4,0.105,3.2,0.12,4.8,0.115,6.5,0.095,7.8,0.02,7.8,0]],
  [[0,-20.2,0.5,-15.2,0.46,-9.5,0.5,-4.1,0.46,-1.5,0.46,2.1,0.38,2.1,0,-20.2,0],[1,-20.2,0.22,-16.9,0.29,-15.2,0.355,-13,0.38,-11.5,0.34,-6.7,0.37,-4,0.33,-1,0.26,2.1,0.17,2.1,0,-20.2,0],[2,-20.2,0.06,-16.9,0.1,-13.7,0.125,-10,0.105,-4.1,0.1,-1,0.06,0.6,0,-20.2,0]]
];
const row10 = [
  [[0,1.2485,0.51,1.27,0.51,1.2735,0.42,1.2725,0.3,1.2745,0.12,1.2745,0.05,1.27,0.01,1.2745,-0.01,1.2395,-0.01,1.24,0.06,1.244,0.2,1.2445,0.3,1.246,0.4],[1,1.2555,0.425,1.262,0.425,1.2655,0.35,1.268,0.2,1.27,0.07,1.265,0.005,1.2485,0.005,1.246,0.06,1.25,0.18,1.2515,0.3,1.2535,0.38],[2,1.258,0.2,1.2633,0.16,1.2658,0.08,1.261,0.02,1.2551,0.02,1.2514,0.08,1.2536,0.15]],
  [[0,1.83,0.51,2.03,0.51,2.03,0.42,2.05,0.2,2.09,0.11,2.06,0.06,2.04,0,1.75,0,1.74,0.08,1.775,0.2,1.78,0.4,1.83,0.44],[1,1.89,0.445,1.964,0.42,1.985,0.28,2.01,0.18,2.02,0.05,1.985,0.01,1.82,0.01,1.795,0.11,1.84,0.29,1.86,0.39],[2,1.917,0.22,1.922,0.165,1.964,0.1,1.975,0.05,1.943,0.012,1.87,0.015,1.846,0.075,1.89,0.165]],
  [[0,101,0.5,601,0.5,601,0,101,0],[3,130,0.5,170,0.5,135,0.43,110,0.46],[3,350,0.5,601,0.5,601,0.42,540,0.47,480,0.43,430,0.46],[1,101,0.36,200,0.37,283,0.32,390,0.295,497,0.235,601,0.245,601,0.005,101,0.005],[1,224,0.43,295,0.38,265,0.355,215,0.375],[2,101,0.185,188,0.215,271,0.16,378,0.125,479,0.08,437,0.03,150,0.015,101,0.02]],
  [[0,-12.1,0.36,-9.5,0.34,-8,0.38,-5.7,0.425,-3.7,0.45,-0.8,0.455,-0.7,0.5,0,0.5,0,0,-12.1,0],[3,-5,0.39,-4,0.42,-3.8,0.38,-4.5,0.36],[1,-12.1,0.115,-10.1,0.16,-8.6,0.2,-7.3,0.17,-5.8,0.22,-5,0.19,-2.4,0.195,-0.8,0.22,-0.8,0.5,0,0.5,0,0,-12.1,0],[2,-0.4,0.35,0,0.4,0,0,-0.4,0]],
  [[0,-12.1,0.33,-11,0.32,-10,0.38,-8.5,0.36,-7.8,0.42,-6.5,0.5,0,0.5,0,0,-12.1,0],[3,-5,0.5,-3,0.5,-2,0.42,-3.5,0.44,-4,0.5],[3,-1.3,0.5,-0.6,0.5,-1,0.4,-1.5,0.44],[1,-12.1,0.15,-9.8,0.235,-8.4,0.24,-8,0.33,-6.8,0.41,-4.6,0.425,-3.9,0.34,-2.9,0.3,-0.8,0.25,-0.5,0.5,0,0.5,0,0,-12.1,0],[2,-6,0.22,-5.6,0.16,-4,0.15,-3.9,0.08,-2.2,0.07,-3.6,0.04,-4.4,0.015,-7.5,0.02,-7.8,0.07,-6.8,0.125],[2,-0.6,0.3,0,0.35,0,0,-1,0,-1.2,0.04,-0.7,0.07]],
  [[0,-12.1,0.36,-11,0.4,-10.7,0.5,-7,0.5,-6.6,0.42,-6.2,0.5,-4.5,0.5,-4,0.44,-2.8,0.35,-1,0.4,-0.5,0.5,0,0.5,0,0,-12.1,0],[1,-12.1,0.28,-9.7,0.35,-8,0.36,-6.5,0.32,-4.7,0.25,-3,0.2,-0.9,0.16,-0.7,0.5,0,0.5,0,0,-12.1,0],[2,-12.1,0.09,-10,0.09,-9.5,0.14,-7.5,0.16,-6.3,0.11,-4.3,0.05,-6.9,0.025,-12.1,0.035],[2,-0.7,0.35,0,0.4,0,0,-0.7,0]],
  [[0,-12,0.5,-5,0.5,-4,0.415,-3.2,0.3,-1.7,0.265,-0.8,0.25,0,0.2,0,0,-12,0],[1,-12,0.37,-11.7,0.39,-10,0.44,-8,0.37,-7,0.37,-5.5,0.21,-3.7,0.09,-3.2,0,-12,0],[2,-12,0.12,-10.3,0.18,-9.8,0.225,-8.6,0.2,-7.4,0.13,-6.2,0.04,-6.2,0,-12,0]],
  [[0,-4.1,0.36,-3,0.44,-1,0.46,1.5,0.48,4,0.5,5.7,0.45,8.1,0.4,8.1,0,-4.1,0],[1,-4.1,0.21,-2,0.27,-1.1,0.36,1.8,0.37,2.7,0.42,4.5,0.37,5.8,0.35,6.1,0.28,8.1,0.25,8.1,0,-4.1,0],[2,-3.4,0.04,-1.6,0.105,0.3,0.13,3,0.12,5.8,0.105,7.4,0.04,5,0.012,0,0.01,-2,0.012]],
  [[0,-20.2,0.44,-16,0.44,-14,0.47,-9.5,0.5,-4,0.46,-1,0.43,2.1,0.37,2.1,0,-20.2,0],[1,-20.2,0.24,-19,0.34,-14,0.34,-10.6,0.38,-8.2,0.4,-6.1,0.31,-2,0.28,2.1,0.23,2.1,0.005,-20.2,0.005],[2,-20.2,0.1,-17,0.105,-13,0.14,-9.5,0.14,-4,0.125,0.1,0.1,1,0.05,-2,0.015,-15,0.01,-20.2,0.02]],
  [[0,0,0.5,0.21,0.5,0.245,0.46,0.34,0.46,0.43,0.38,0.5,0.355,0.5,0.065,0.4,0.025,0.26,0.008,0,0],[1,0,0.44,0.07,0.43,0.13,0.4,0.155,0.33,0.2,0.36,0.29,0.31,0.34,0.24,0.42,0.24,0.44,0.11,0.355,0.04,0.225,0.01,0,0],[2,0,0.18,0.05,0.225,0.09,0.17,0.155,0.11,0.115,0.07,0.16,0.07,0.03,0.005,0,0]]
];
const row11 = [
  [[0,1.26,3200,1.274,3180,1.2766,3110,1.2744,2810,1.2714,2600,1.2677,2350,1.265,2280,1.2447,2280,1.2417,2420,1.2417,2700,1.2395,2960,1.2455,3130],[1,1.26,3150,1.272,3085,1.267,2770,1.261,2620,1.2573,2490,1.2528,2530,1.2484,2740,1.2454,2980,1.2506,3110],[2,1.26,3095,1.267,3025,1.2655,2960,1.26,2895,1.2522,2985,1.2551,3085]],
  [[0,1.89,3200,2.016,3155,2.09,2985,2.03,2680,2.03,2440,1.97,2280,1.838,2280,1.785,2520,1.733,2985,1.796,3130],[1,1.911,3150,2.03,3085,1.98,2770,1.943,2600,1.927,2480,1.875,2525,1.843,2665,1.79,2985,1.827,3110],[2,1.911,3095,1.97,3005,1.916,2895,1.848,3005,1.875,3085]],
  [[0,101,3170,601,3170,601,2640,500,2500,437,2510,319,2400,200,2330,101,2294],[1,101,3120,601,3110,601,2830,485,2840,354,2760,259,2650,200,2565,188,2490,160,2560,101,2590],[2,101,3070,259,3090,400,3050,520,3020,437,2970,307,2960,200,2895,101,2940]],
  [[0,-12.1,3150,-0.5,3190,0,3226,0,2294,-0.9,2294,-1,2400,-2.6,2490,-5,2340,-7,2420,-7.5,2550,-10,2540,-12.1,2600],[1,-12.1,3070,-6,3100,0,3170,0,2294,-0.5,2294,-0.8,2790,-1.8,2900,-5.8,2850,-9.7,2860,-12.1,2950],[2,-0.4,3060,0,3100,0,2900,-0.3,2900]],
  [[0,-12.1,3130,0,3226,0,2294,-0.8,2294,-2,2420,-4,2340,-7,2300,-10,2470,-12.1,2600],[1,-12.1,3070,0,3170,0,2294,-0.5,2294,-1.2,2770,-3,2680,-5.3,2680,-6.1,2520,-8.7,2750,-12.1,2920],[2,-7.7,3005,-5.8,3095,-3.3,3025,-5.8,2890,-6.9,2945],[2,-0.8,3100,0,3130,0,2800,-0.4,2950],[2,-2.6,3010,-1.6,3010,-1.6,2980,-2.6,2980]],
  [[0,-12.1,3170,0,3210,0,2294,-0.6,2294,-3,2430,-5,2400,-7,2294,-9.7,2294,-12.1,2440],[1,-12.1,3125,0,3140,0,2294,-0.5,2294,-1.1,2900,-3.5,2830,-5.8,2800,-6.4,2680,-9.7,2740,-12.1,2830],[2,-11.6,3025,-7.7,3070,-4.5,3015,-7.7,2940,-10.9,2985],[2,-0.7,3050,0,3100,0,2700,-0.3,2800]],
  [[0,-12,3170,-5,3180,-2.6,3110,0,3110,0,2450,-1,2450,-1.3,2720,-3,2640,-3.5,2490,-4.3,2450,-5,2310,-12,2294],[1,-12,3145,-9,3155,-5.2,3150,-2.6,2980,-4.3,2915,-5.5,2750,-6.9,2640,-8,2540,-9,2620,-11,2500,-11.7,2660,-12,2650],[2,-12,3070,-9,3090,-7,3075,-6.1,3005,-7,2950,-9,2905,-11.7,2955]],
  [[0,-4.1,3170,8.1,3170,8.1,2500,6.5,2370,3,2330,0,2330,-1.5,2294,-3,2420,-4.1,2450],[3,5.5,2420,7.5,2470,7.5,2440,6.5,2400,5.5,2390],[1,-4.1,3135,8.1,3135,8.1,2800,5.8,2710,4.9,2620,2,2600,1.2,2660,-2.6,2650,-4.1,2757],[2,-3.2,3005,-1.4,3070,2.3,3090,5.8,3070,7.5,2995,5.8,2960,3,2915,-1.4,2940]],
  [[0,-20.2,3170,2.1,3170,2.1,2480,-4,2350,-10,2320,-15.5,2340,-20.2,2490],[1,-20.2,3135,2.1,3135,2.1,2790,-3,2730,-6.8,2710,-9.5,2600,-11.5,2600,-14.7,2730,-17.5,2650,-20.2,2730],[2,-20.2,3005,-16.9,3060,-10.5,3080,-4.1,3070,0.4,3015,-0.9,2960,-9.5,2950,-13.4,2915,-19,2960]],
  [[0,0,3155,0.1,3190,0.31,3155,0.5,3110,0.5,2940,0.31,2895,0.17,2785,0.1,2570,0.07,2280,0,2280],[1,0,3110,0.19,3090,0.48,3020,0.335,2960,0.19,2905,0.11,2810,0.05,2620,0.015,2370,0,2350],[2,0,2960,0.09,3070,0.29,3045,0.31,3015,0.29,2985,0.15,2950,0.11,2855,0.04,2770,0.02,2715,0,2690]],
  [[0,0,3160,0.12,3195,0.29,3145,0.5,3125,0.5,2680,0.4,2440,0.3,2420,0.2,2400,0.19,2280,0,2280],[3,0.36,2640,0.43,2560,0.4,2440,0.33,2490],[1,0,3140,0.16,3130,0.3,3075,0.5,3005,0.36,2885,0.23,2780,0.115,2620,0.135,2520,0.075,2420,0.03,2510,0,2560],[2,0.02,3100,0.09,3105,0.17,3060,0.265,3005,0.13,2900,0.05,2865,0.02,2985]]
];
const row12 = [
  [[0,1.2506,3700,1.264,3700,1.2714,3560,1.2744,3360,1.2766,3240,1.2714,3120,1.2596,3020,1.252,3020,1.2447,3120,1.2395,3240,1.2417,3490,1.2455,3650],[1,1.258,3590,1.267,3480,1.267,3430,1.2714,3225,1.267,3115,1.2566,3090,1.2484,3120,1.2462,3225,1.25,3430,1.253,3550],[2,1.2596,3325,1.2655,3260,1.2665,3190,1.264,3150,1.2558,3125,1.2522,3225,1.255,3305]],
  [[0,1.89,3720,1.97,3720,2.053,3490,2.058,3390,2.09,3290,2.085,3135,1.964,3045,1.858,3045,1.738,3205,1.765,3475,1.805,3610],[1,1.88,3590,1.968,3565,1.984,3450,2.022,3225,1.911,3080,1.79,3260,1.827,3430],[2,1.911,3325,1.964,3265,1.974,3225,1.943,3125,1.88,3125,1.85,3260]],
  [[0,101,3640,250,3660,400,3630,601,3600,601,3045,300,3040,101,3050],[1,101,3510,247,3550,390,3480,473,3470,473,3400,601,3350,601,3145,188,3085,101,3110],[2,101,3300,160,3340,247,3330,354,3255,400,3250,396,3175,295,3130,188,3130,101,3150]],
  [[0,-12.1,3630,-8,3560,-5.8,3660,-3.8,3550,-0.7,3610,-0.3,3716,0,3716,0,2996,-0.4,3000,-1,3065,-5,3085,-12.1,3140],[1,-12.1,3260,-8,3340,-4.7,3370,-2.5,3320,-1,3430,-0.4,3600,0,3700,0,3000,-0.4,3080,-1.8,3145,-6,3110,-12.1,3175],[1,-8.2,3490,-7.2,3490,-7.5,3360,-8.5,3370],[2,-0.4,3400,0,3450,0,3100,-0.3,3150]],
  [[0,-12.1,3580,-8.7,3560,-7.5,3716,-7,3680,-4,3650,-2,3660,-0.3,3716,0,3716,0,2996,-0.3,3020,-6,3050,-12.1,3100],[1,-12.1,3285,-8.4,3370,-7.9,3530,-5.7,3580,-1.9,3430,-0.5,3560,0,3650,0,3010,-0.4,3080,-1.9,3115,-8.7,3130,-12.1,3200],[2,-5.8,3345,-4.9,3310,-3.7,3255,-3.7,3190,-5.7,3130,-7.8,3205,-7.4,3300],[2,-0.8,3200,-0.3,3500,0,3550,0,3050,-0.4,3100]],
  [[0,-12.1,3600,-9.2,3670,-4.6,3640,-1.7,3560,-0.7,3716,0,3716,0,2996,-0.5,3020,-1.4,3085,-6.9,3055,-12.1,3090],[1,-12.1,3490,-8,3510,-7.4,3550,-5.4,3490,-3.1,3340,-0.9,3315,-0.5,3600,0,3650,0,3030,-0.4,3080,-1.4,3180,-4.5,3120,-12.1,3130],[2,-10.5,3270,-8.9,3320,-6.6,3295,-5.3,3230,-6.9,3160,-10.6,3180],[2,-0.7,3350,-0.3,3500,0,3550,0,3080,-0.4,3120]],
  [[0,-12,3660,-9,3680,-4.3,3660,-3.2,3550,-1.5,3490,0,3500,0,3100,-1.5,3130,-4,3080,-12,3065],[3,-1.6,3370,-0.9,3450,-0.6,3400,-1,3330],[1,-12,3545,-9.1,3580,-7,3550,-5.7,3490,-5.5,3370,-4,3305,-3.3,3240,-4,3155,-6,3100,-12,3110],[2,-12,3290,-9.8,3330,-8,3310,-6.8,3270,-7,3170,-9.8,3145,-12,3205]],
  [[0,-4.1,3636,-0.5,3680,3,3640,8.1,3610,8.1,3060,2,3050,-4.1,3065],[1,-4.1,3300,-2.9,3480,0,3530,4.3,3495,5.8,3530,6.3,3460,8.1,3360,8.1,3130,0,3105,-2.9,3120,-4.1,3170],[2,-3,3240,-1.4,3315,1.8,3320,5.8,3300,7.2,3205,5.8,3160,3,3140,-1.9,3170]],
  [[0,-20.2,3590,-11,3680,-4,3665,2.1,3590,2.1,3060,-10,3050,-20.2,3065],[1,-20.2,3490,-15.2,3510,-11.5,3540,-5.1,3535,-1,3475,2.1,3360,2.1,3135,-10,3105,-20.2,3135],[2,-20.2,3225,-18,3290,-8.5,3315,-0.4,3300,-0.2,3225,-3,3160,-12,3145,-19,3200]],
  [[0,0,3716,0.06,3716,0.22,3665,0.33,3630,0.5,3480,0.5,3140,0.31,3090,0.03,3020,0,3040],[1,0,3575,0.11,3575,0.22,3510,0.29,3390,0.45,3290,0.46,3265,0.425,3200,0.2,3125,0,3100],[2,0,3335,0.04,3365,0.135,3265,0.195,3230,0.135,3205,0.05,3125,0,3090]],
  [[0,0.02,3716,0.05,3716,0.155,3510,0.275,3370,0.5,3270,0.5,3090,0.23,3075,0.08,3075,0.015,3190,0.005,3500],[1,0.015,3650,0.09,3545,0.155,3410,0.265,3310,0.42,3240,0.43,3170,0.4,3130,0.265,3110,0.09,3135,0.035,3240,0.01,3480],[2,0.04,3560,0.085,3490,0.105,3355,0.225,3290,0.255,3205,0.13,3190,0.065,3270,0.03,3460]],
  [[0,2294,3430,2370,3480,2650,3580,2775,3665,3000,3716,3120,3680,3210,3290,3170,3125,3050,3050,2750,3075,2294,3145],[1,2485,3270,2570,3315,2800,3405,2775,3475,2875,3575,3100,3610,3160,3290,3100,3105,3000,3075,2625,3130,2485,3190],[2,3020,3425,3110,3240,3085,3155,3010,3120,2885,3240,2950,3350]]
];
const row13 = [
  [[0,1.2477,3230,1.2655,3234,1.2729,3190,1.2766,3125,1.2685,3007,1.2596,2988,1.2506,3003,1.2387,3110,1.243,3205,1.2505,3208],[1,1.2596,3188,1.2707,3139,1.267,3058,1.259,3030,1.2506,3066,1.246,3118,1.2506,3168],[2,1.2596,3148,1.2652,3118,1.2618,3077,1.2566,3080,1.2522,3110,1.2544,3139]],
  [[0,1.911,3236,2.027,3190,2.095,3115,2.027,3044,1.922,2981,1.827,3007,1.733,3110,1.796,3190],[1,1.9,3189,1.995,3154,2.027,3103,1.922,3028,1.817,3073,1.801,3132,1.838,3172],[2,1.911,3150,1.964,3118,1.948,3077,1.89,3080,1.858,3110,1.868,3139]],
  [[0,101,3201,150,3231,350,3225,601,3205,601,3025,300,3003,101,3007],[1,101,3176,390,3168,601,3161,601,3069,390,3058,224,3040,101,3055],[2,101,3143,224,3150,307,3135,384,3110,307,3084,188,3073,101,3080]],
  [[0,-12.1,3194,-9.5,3176,-7,3209,-1.8,3198,-0.7,3210,-0.2,3250,0,3250,0,2960,-0.2,2960,-0.7,3014,-1.8,3022,-9.5,3029,-12.1,3036],[1,-12.1,3120,-10.4,3132,-7.8,3150,-1.8,3143,-0.5,3180,-0.2,3225,0,3230,0,2990,-0.3,3010,-0.7,3070,-1.5,3091,-6,3077,-10,3095,-12.1,3100],[2,-0.3,3150,0,3170,0,3050,-0.3,3070]],
  [[0,-12.1,3190,-8.2,3227,-4,3205,-0.5,3205,0,3250,0,2985,-0.8,3005,-5.8,3014,-9.8,3007,-12.1,3040],[1,-12.1,3125,-7.3,3183,-1.9,3161,-0.4,3180,0,3200,0,3030,-0.5,3040,-5,3040,-8.4,3070,-12.1,3099],[2,-5.8,3150,-3.9,3110,-5.7,3064,-7.3,3095,-7,3139],[2,-0.7,3110,-0.3,3130,0,3150,0,3060,-0.5,3090]],
  [[0,-12.1,3205,-8,3209,-6.6,3227,-5.8,3205,-1.1,3205,0,3250,0,2985,-1.1,3025,-6.9,3007,-12.1,3018],[1,-12.1,3165,-8,3172,-4,3146,-1,3140,0,3198,0,3030,-1.4,3091,-4.3,3055,-12.1,3062],[2,-11.5,3105,-8.3,3139,-5.8,3135,-5.6,3110,-6.9,3080,-9.2,3088,-11.2,3098],[2,-0.7,3125,-0.3,3180,0,3180,0,3060,-0.3,3060]],
  [[0,-12,3225,-9.1,3231,-5.5,3220,-3.2,3176,-1.8,3190,0,3176,0,3033,-1.5,3066,-5.2,3022,-6,2992,-9,3000,-12,3010],[1,-12,3176,-9.8,3190,-5.2,3154,-3.2,3113,-4,3080,-6,3055,-8.5,3033,-12,3062],[2,-11.7,3110,-9.8,3143,-7.4,3139,-6.7,3118,-7.9,3088,-10,3077]],
  [[0,-4.1,3209,-1,3224,3,3224,8.1,3198,8.1,3014,0,3003,-4.1,3029],[1,-4.1,3157,1.5,3176,8.1,3154,8.1,3069,2.6,3044,-4.1,3073],[2,-2.5,3106,-1.4,3132,3.8,3143,7,3122,7,3102,4.1,3080,-1.1,3084]],
  [[0,-20.2,3209,-12,3224,2.1,3198,2.1,3028,-1,3028,-4,3007,-9.5,3000,-20.2,3018],[1,-20.2,3161,-14.7,3174,-4,3165,2.1,3161,2.1,3069,-14.7,3044,-20.2,3058],[2,-19,3106,-15.8,3139,-5.7,3143,-4,3128,0.1,3106,0.1,3095,-4.7,3084,-11.5,3080,-18,3095]],
  [[0,0,3220,0.065,3236,0.195,3205,0.41,3176,0.5,3110,0.5,3062,0.31,3029,0.195,3000,0.04,2985,0,2981],[1,0,3190,0.1,3183,0.29,3154,0.47,3106,0.42,3080,0.195,3062,0,3025],[2,0,3157,0.1,3150,0.155,3113,0.1,3080,0,3062]],
  [[0,0,3212,0.12,3231,0.265,3198,0.5,3183,0.5,3051,0.335,3022,0.09,3000,0,2989],[1,0,3172,0.07,3190,0.16,3189,0.4,3143,0.43,3110,0.4,3088,0.275,3055,0.09,3030,0,3044],[2,0.02,3139,0.075,3157,0.185,3124,0.24,3110,0.185,3103,0.115,3073,0.035,3073]],
  [[0,2294,3161,2570,3179,2850,3220,3220,3227,3100,3073,3000,2996,2825,2996,2750,3022,2370,3044,2294,3040],[1,2485,3110,2625,3139,2750,3168,3100,3190,3160,3165,3050,3036,2975,3023,2800,3062,2570,3080],[2,3000,3152,3110,3143,3075,3080,3000,3066,2910,3110]],
  [[0,3020,3000,3080,3095,3235,3205,3290,3227,3505,3231,3540,3205,3700,3154,3716,3092,3465,3029,3290,3000,3140,3003],[1,3090,3036,3090,3073,3235,3176,3295,3190,3465,3179,3580,3132,3580,3110,3370,3058,3175,3029],[2,3265,3157,3320,3150,3320,3110,3235,3077,3135,3066,3135,3095]]
];
const contourRows = [[],row1,row2,row3,row4,row5,row6,row7,row8,row9,row10,row11,row12,row13];

// layout of the triangle
const X0 = 62, Y0 = 17.3, STEP = 151, W = 144.6, H = 144;
const SERIF = "'Liberation Serif'";
const levelFill = ['#e5d6e9', '#c8a3d1', '#974ca3', '#ffffff'];
const levelStroke = '#a05cad';

function tickAxis(param, pos, showLabel, grid) {
  return {
    type: 'value', gridIndex: grid, position: pos,
    min: axisMin[param], max: axisMax[param],
    axisLine: { show: true, onZero: false, lineStyle: { color: '#222', width: 1.5 } },
    axisTick: { show: true, inside: true, length: 5, customValues: tickValues[param], lineStyle: { color: '#222', width: 1 } },
    axisLabel: {
      show: showLabel, customValues: tickValues[param], rotate: 45, margin: 20,
      align: 'center', verticalAlign: 'middle', hideOverlap: false,
      fontFamily: SERIF, fontSize: 17, color: '#111',
      formatter: v => Number(v).toFixed(tickDecimals[param]).replace('-', '−')
    },
    splitLine: { show: false }, animation: false
  };
}

function plainAxis(pos, grid) {
  return {
    type: 'value', gridIndex: grid, position: pos, min: 0, max: 100,
    axisLine: { show: true, onZero: false, lineStyle: { color: '#222', width: 1.5 } },
    axisTick: { show: false }, axisLabel: { show: false }, splitLine: { show: false }
  };
}

function contourSeries(polys, xi, yi) {
  return {
    type: 'custom', xAxisIndex: xi, yAxisIndex: yi, clip: true, silent: true, animation: false,
    data: polys.map((p, i) => [p[1], p[2], i]),
    renderItem: (params, api) => {
      const p = polys[params.dataIndex], b = params.coordSys, pts = [];
      for (let j = 1; j < p.length; j += 2) {
        const pt = api.coord([p[j], p[j + 1]]);
        // points on the frame go past it, so rounding never leaves a gap at the corners
        if (pt[0] <= b.x + 1.5) pt[0] = b.x - 10;
        if (pt[0] >= b.x + b.width - 1.5) pt[0] = b.x + b.width + 10;
        if (pt[1] <= b.y + 1.5) pt[1] = b.y - 10;
        if (pt[1] >= b.y + b.height - 1.5) pt[1] = b.y + b.height + 10;
        pts.push(pt);
      }
      return {
        type: 'polygon',
        shape: { points: pts, smooth: 0.4 },
        style: { fill: levelFill[p[0]], stroke: p[0] === 2 ? levelFill[2] : levelStroke, lineWidth: 1.2 }
      };
    }
  };
}

function histSeries(i, xi, yi) {
  const binW = (axisMax[i] - axisMin[i]) / 30;
  const pts = histograms[i].map((h, k) => [axisMin[i] + k * binW, h]);
  pts.push([axisMax[i], histograms[i][29]]);
  const dash = { type: [6, 5], color: '#4f7df2', width: 1.6 };
  return {
    type: 'line', xAxisIndex: xi, yAxisIndex: yi, data: pts, step: 'end', symbol: 'none',
    silent: true, animation: false,
    lineStyle: { color: '#707070', width: 2 },
    areaStyle: { color: '#bf92c7', opacity: 1 },
    markLine: {
      // marker values get rounded to 2 decimals otherwise, which moves the Rp lines
      precision: 4,
      silent: true, symbol: 'none', animation: false, label: { show: false },
      data: [
        { xAxis: lowerValues[i], lineStyle: dash },
        { xAxis: medianValues[i], lineStyle: { type: 'solid', color: '#6a8bea', width: 2.6 } },
        { xAxis: upperValues[i], lineStyle: dash }
      ]
    }
  };
}

// text with sub/superscripts is laid out piece by piece
const measure = document.createElement('canvas').getContext('2d');
function textWidth(t, size) {
  measure.font = size + 'px ' + SERIF;
  return measure.measureText(t).width;
}
function textEl(t, x, y, size) {
  return { type: 'text', x: x, y: y, silent: true, style: { text: t, font: size + 'px ' + SERIF, fill: '#111', textAlign: 'left', textVerticalAlign: 'middle' } };
}
function nameEls(parts, size, subSize) {
  let x = 0;
  const els = [];
  parts.forEach((t, k) => {
    const s = k % 2 ? subSize : size;
    els.push(textEl(t, x, k % 2 ? size * 0.28 : 0, s));
    x += textWidth(t, s);
  });
  return { els: els, width: x };
}

const grids = [], xAxes = [], yAxes = [], series = [], graphics = [];
for (let r = 0; r < 14; r++) {
  for (let c = 0; c <= r; c++) {
    const g = grids.length;
    grids.push({ left: X0 + c * STEP, top: Y0 + r * STEP, width: W, height: H, show: false });
    const xi = xAxes.length, yi = yAxes.length;
    xAxes.push(tickAxis(c, 'bottom', r === 13, g), tickAxis(c, 'top', false, g));
    if (r === c) {
      yAxes.push(plainAxis('left', g), plainAxis('right', g));
      series.push(histSeries(r, xi, yi));
    } else {
      yAxes.push(tickAxis(r, 'left', c === 0, g), tickAxis(r, 'right', false, g));
      series.push(contourSeries(contourRows[r][c], xi, yi));
    }
  }
}

// titles over the diagonal, stacked +/- on the right
for (let i = 0; i < 14; i++) {
  const name = nameEls(paramNames[i], 16, 12);
  const eq = '  =  ' + titleValues[i];
  const eqW = textWidth(eq, 16);
  const stackW = Math.max(textWidth(titlePlus[i], 12), textWidth(titleMinus[i], 12));
  const total = name.width + eqW + stackW;
  const left = X0 + i * STEP + W / 2 - total / 2;
  const base = Y0 + i * STEP - 10;
  graphics.push({ type: 'group', x: left, y: base, children: name.els.concat([
    textEl(eq, name.width, 0, 16),
    textEl(titlePlus[i], name.width + eqW, -5.5, 12),
    textEl(titleMinus[i], name.width + eqW, 5.5, 12)
  ]) });
  // bottom axis names
  const bottom = nameEls(paramNames[i], 20, 15);
  graphics.push({ type: 'group', x: X0 + i * STEP + W / 2 - bottom.width / 2, y: 2175, children: bottom.els });
  // left axis names, rotated
  if (i > 0) {
    const side = nameEls(paramNames[i], 20, 15);
    graphics.push({ type: 'group', x: 9, y: Y0 + i * STEP + H / 2 + side.width / 2, rotation: Math.PI / 2, children: side.els });
  }
}

const chart = echarts.init(document.getElementById('chart'));
chart.setOption({
  backgroundColor: '#fff',
  animation: false,
  grid: grids,
  xAxis: xAxes,
  yAxis: yAxes,
  series: series,
  graphic: { elements: graphics }
});
</script>
</body>
</html>
